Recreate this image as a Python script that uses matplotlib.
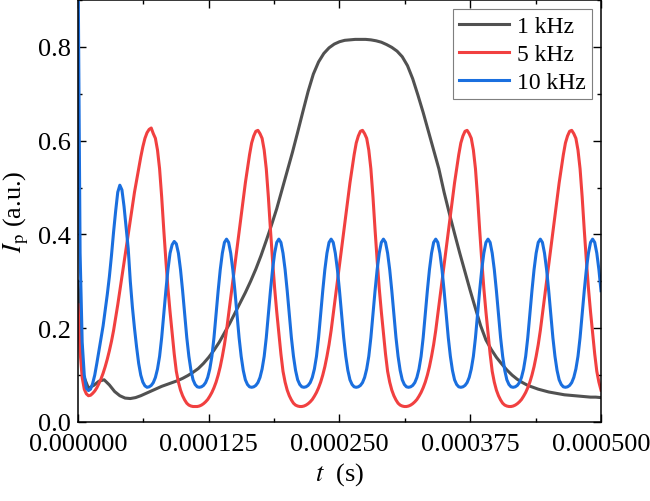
import numpy as np
import matplotlib
matplotlib.use("Agg")
import matplotlib.pyplot as plt
from matplotlib.ticker import MultipleLocator, FormatStrFormatter

plt.rcParams["font.family"] = ["Liberation Serif", "DejaVu Serif"]
plt.rcParams["mathtext.fontset"] = "stix"

# sample times in microseconds
t_fast_us = np.arange(0, 501, 2)   # 5 kHz and 10 kHz traces
t_slow_us = np.arange(0, 501, 5)   # 1 kHz trace

ip_1khz = [
    0.3, 0.1, 0.072, 0.078, 0.087, 0.09, 0.079, 0.065, 0.056, 0.051,
    0.05, 0.052, 0.056, 0.061, 0.066, 0.071, 0.076, 0.08, 0.084, 0.088,
    0.093, 0.099, 0.106, 0.114, 0.125, 0.138, 0.153, 0.17, 0.19, 0.21,
    0.232, 0.254, 0.276, 0.3, 0.326, 0.355, 0.387, 0.42, 0.455, 0.495,
    0.535, 0.575, 0.618, 0.662, 0.705, 0.742, 0.768, 0.786, 0.798, 0.806,
    0.811, 0.814, 0.815, 0.816, 0.816, 0.816, 0.815, 0.813, 0.81, 0.805,
    0.799, 0.791, 0.779, 0.76, 0.732, 0.697, 0.66, 0.62, 0.58, 0.54,
    0.49, 0.445, 0.402, 0.36, 0.32, 0.28, 0.242, 0.205, 0.175, 0.155,
    0.138, 0.124, 0.111, 0.1, 0.091, 0.084, 0.078, 0.074, 0.07, 0.067,
    0.064, 0.062, 0.06, 0.058, 0.057, 0.056, 0.055, 0.054, 0.053, 0.053,
    0.052,
]

ip_5khz = [
    # 0 - 70 us
    0.25, 0.15, 0.095, 0.07, 0.06, 0.056, 0.057, 0.061, 0.066, 0.073,
    0.082, 0.092, 0.104, 0.118, 0.134, 0.152, 0.172, 0.195, 0.222, 0.25,
    0.28, 0.31, 0.34, 0.37, 0.4, 0.43, 0.46, 0.49, 0.515, 0.54,
    0.565, 0.587, 0.605, 0.617, 0.624, 0.627,
    # 72 - 170 us
    0.615, 0.605, 0.58, 0.54, 0.48, 0.41, 0.345, 0.285, 0.235, 0.19,
    0.145, 0.108, 0.085, 0.068, 0.056, 0.047, 0.04, 0.036, 0.034, 0.033,
    0.033,
    0.033, 0.034, 0.036, 0.039, 0.043, 0.048, 0.055, 0.063, 0.073, 0.085,
    0.1, 0.118, 0.14, 0.165, 0.195, 0.23, 0.265, 0.3, 0.335, 0.37,
    0.405, 0.44, 0.475, 0.51, 0.54, 0.57, 0.595, 0.61, 0.62,
    # 172 - 270 us
    0.622, 0.615, 0.605, 0.58, 0.54, 0.48, 0.41, 0.345, 0.285, 0.235,
    0.19, 0.145, 0.108, 0.085, 0.068, 0.056, 0.047, 0.04, 0.036, 0.034,
    0.033,
    0.033, 0.034, 0.036, 0.039, 0.043, 0.048, 0.055, 0.063, 0.073, 0.085,
    0.1, 0.118, 0.14, 0.165, 0.195, 0.23, 0.265, 0.3, 0.335, 0.37,
    0.405, 0.44, 0.475, 0.51, 0.54, 0.57, 0.595, 0.61, 0.62,
    # 272 - 370 us
    0.622, 0.615, 0.605, 0.58, 0.54, 0.48, 0.41, 0.345, 0.285, 0.235,
    0.19, 0.145, 0.108, 0.085, 0.068, 0.056, 0.047, 0.04, 0.036, 0.034,
    0.033,
    0.033, 0.034, 0.036, 0.039, 0.043, 0.048, 0.055, 0.063, 0.073, 0.085,
    0.1, 0.118, 0.14, 0.165, 0.195, 0.23, 0.265, 0.3, 0.335, 0.37,
    0.405, 0.44, 0.475, 0.51, 0.54, 0.57, 0.595, 0.61, 0.62,
    # 372 - 470 us
    0.622, 0.615, 0.605, 0.58, 0.54, 0.48, 0.41, 0.345, 0.285, 0.235,
    0.19, 0.145, 0.108, 0.085, 0.068, 0.056, 0.047, 0.04, 0.036, 0.034,
    0.033,
    0.033, 0.034, 0.036, 0.039, 0.043, 0.048, 0.055, 0.063, 0.073, 0.085,
    0.1, 0.118, 0.14, 0.165, 0.195, 0.23, 0.265, 0.3, 0.335, 0.37,
    0.405, 0.44, 0.475, 0.51, 0.54, 0.57, 0.595, 0.61, 0.62,
    # 472 - 500 us
    0.622, 0.615, 0.605, 0.58, 0.54, 0.48, 0.41, 0.345, 0.285, 0.235,
    0.19, 0.145, 0.108, 0.085, 0.068,
]

ip_10khz = [
    # 0 - 90 us
    1.0, 0.36, 0.17, 0.1, 0.072, 0.067, 0.07, 0.082, 0.1, 0.125,
    0.152, 0.178, 0.205, 0.238, 0.272, 0.31, 0.355, 0.405, 0.45, 0.49,
    0.505, 0.495, 0.46, 0.415, 0.37, 0.3, 0.245, 0.2, 0.16, 0.125,
    0.1, 0.085, 0.077, 0.074, 0.075, 0.078, 0.084, 0.095, 0.113, 0.14,
    0.18, 0.23, 0.28, 0.325, 0.36, 0.378,
    # 92 - 490 us, one line per period
    0.385, 0.38, 0.36, 0.325, 0.28, 0.23, 0.18, 0.14, 0.11, 0.09, 0.08, 0.075, 0.074,
    0.075, 0.078, 0.084, 0.095, 0.113, 0.14, 0.18, 0.23, 0.28, 0.325, 0.36, 0.383,
    0.39, 0.383, 0.36, 0.325, 0.28, 0.23, 0.18, 0.14, 0.11, 0.09, 0.08, 0.075, 0.074,
    0.075, 0.078, 0.084, 0.095, 0.113, 0.14, 0.18, 0.23, 0.28, 0.325, 0.36, 0.383,
    0.39, 0.383, 0.36, 0.325, 0.28, 0.23, 0.18, 0.14, 0.11, 0.09, 0.08, 0.075, 0.074,
    0.075, 0.078, 0.084, 0.095, 0.113, 0.14, 0.18, 0.23, 0.28, 0.325, 0.36, 0.383,
    0.39, 0.383, 0.36, 0.325, 0.28, 0.23, 0.18, 0.14, 0.11, 0.09, 0.08, 0.075, 0.074,
    0.075, 0.078, 0.084, 0.095, 0.113, 0.14, 0.18, 0.23, 0.28, 0.325, 0.36, 0.383,
    0.39, 0.383, 0.36, 0.325, 0.28, 0.23, 0.18, 0.14, 0.11, 0.09, 0.08, 0.075, 0.074,
    0.075, 0.078, 0.084, 0.095, 0.113, 0.14, 0.18, 0.23, 0.28, 0.325, 0.36, 0.383,
    0.39, 0.383, 0.36, 0.325, 0.28, 0.23, 0.18, 0.14, 0.11, 0.09, 0.08, 0.075, 0.074,
    0.075, 0.078, 0.084, 0.095, 0.113, 0.14, 0.18, 0.23, 0.28, 0.325, 0.36, 0.383,
    0.39, 0.383, 0.36, 0.325, 0.28, 0.23, 0.18, 0.14, 0.11, 0.09, 0.08, 0.075, 0.074,
    0.075, 0.078, 0.084, 0.095, 0.113, 0.14, 0.18, 0.23, 0.28, 0.325, 0.36, 0.383,
    0.39, 0.383, 0.36, 0.325, 0.28, 0.23, 0.18, 0.14, 0.11, 0.09, 0.08, 0.075, 0.074,
    0.075, 0.078, 0.084, 0.095, 0.113, 0.14, 0.18, 0.23, 0.28, 0.325, 0.36, 0.383,
    # 492 - 500 us
    0.39, 0.383, 0.36, 0.325, 0.28,
]

labels = ["1 kHz", "5 kHz", "10 kHz"]
colors = ["#515151", "#F14040", "#1A6FDF"]
x_ticks = [0, 0.000125, 0.00025, 0.000375, 0.0005]

fig = plt.figure(figsize=(6.5, 5.02), dpi=100)
ax = fig.add_axes([0.12, 0.1574, 0.8046, 0.8406])

series = [(t_slow_us, ip_1khz), (t_fast_us, ip_5khz), (t_fast_us, ip_10khz)]
for (t_us, ip), lab, col in zip(series, labels, colors):
    ax.plot(np.asarray(t_us) * 1e-6, ip, color=col, lw=2.2, label=lab)

ax.set_xlim(0, 0.0005)
ax.set_ylim(0, 0.9)
ax.set_xticks(x_ticks)
ax.xaxis.set_major_formatter(FormatStrFormatter("%.6f"))
ax.xaxis.set_minor_locator(MultipleLocator(0.0000625))
ax.yaxis.set_major_locator(MultipleLocator(0.2))
ax.yaxis.set_major_formatter(FormatStrFormatter("%.1f"))
ax.yaxis.set_minor_locator(MultipleLocator(0.1))

ax.tick_params(which="both", direction="in", top=True, right=True, width=1.0)
ax.tick_params(which="major", length=5.5, labelsize=19)
ax.tick_params(axis="y", which="major", pad=5)
ax.tick_params(axis="x", which="major", pad=8)
ax.tick_params(which="minor", length=3)
for sp in ax.spines.values():
    sp.set_linewidth(1.1)

ax.set_xlabel(r"$t$  (s)", fontsize=19, labelpad=4)
ax.set_ylabel(r"$I_{\rm p}$ (a.u.)", fontsize=19, labelpad=5)

leg = ax.legend(loc="upper right", fontsize=17, handlelength=2.1,
                handletextpad=0.35, borderaxespad=0.4, labelspacing=0.28,
                fancybox=False, framealpha=1, borderpad=0.25)
leg.get_frame().set_edgecolor("#7f7f7f")
leg.get_frame().set_linewidth(0.8)

fig.savefig("out.png", dpi=100)
